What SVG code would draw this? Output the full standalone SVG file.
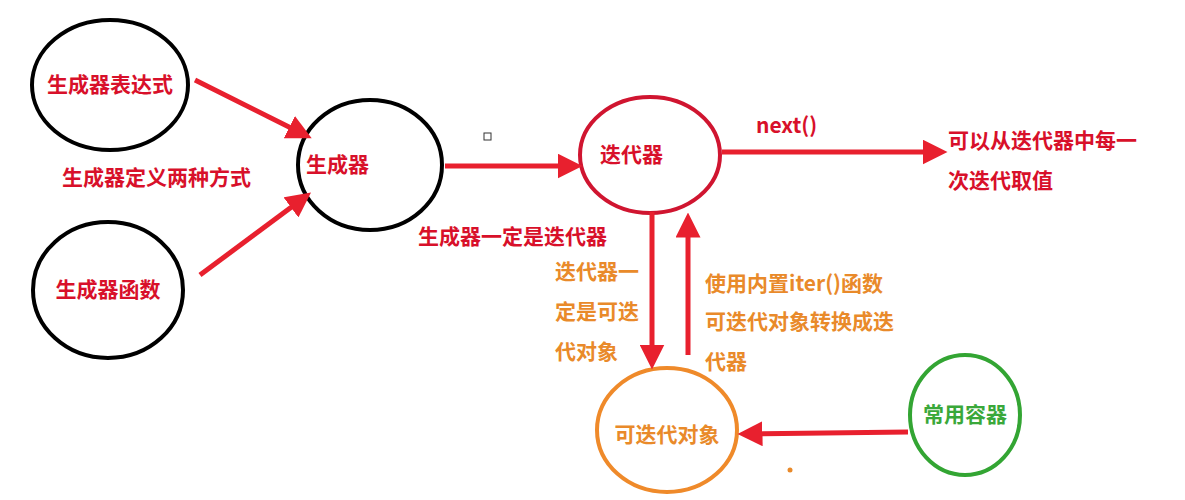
<svg xmlns="http://www.w3.org/2000/svg" width="1185" height="500" viewBox="0 0 1185 500">
<defs>
<marker id="ah" markerWidth="5" markerHeight="5" refX="3.5" refY="2.5" orient="auto" markerUnits="strokeWidth"><path d="M0,0 L5,2.5 L0,5 Z" fill="#e8202e"/></marker>
<style>
.e{fill:none;stroke-width:4}
.t{font-family:"Noto Sans CJK SC","Liberation Sans",sans-serif;font-weight:bold;font-size:21px}
.r{fill:#d8102a}.o{fill:#e98a2a}.g{fill:#3aa83a}
.c{stroke:#e8202e;stroke-width:5;fill:none;marker-end:url(#ah)}
</style>
</defs>
<rect width="1185" height="500" fill="#fff"/>
<g id="n1"><ellipse class="e" cx="110" cy="85" rx="78" ry="65" stroke="#000"/><text class="t r" x="110" y="92" text-anchor="middle">生成器表达式</text></g>
<g id="n2"><ellipse class="e" cx="108" cy="290" rx="75" ry="68" stroke="#000"/><text class="t r" x="108" y="297" text-anchor="middle">生成器函数</text></g>
<g id="n3"><ellipse class="e" cx="370" cy="165" rx="72" ry="65" stroke="#000"/><text class="t r" x="306" y="172">生成器</text></g>
<g id="n4"><ellipse class="e" cx="650" cy="155" rx="70" ry="58" stroke="#d01530"/><text class="t r" x="600" y="162">迭代器</text></g>
<g id="n5"><ellipse class="e" cx="667" cy="430" rx="70" ry="62" stroke="#ef8a2a"/><text class="t o" x="667" y="442" text-anchor="middle">可迭代对象</text></g>
<g id="n6"><ellipse class="e" cx="965" cy="415" rx="55" ry="60" stroke="#33a533"/><text class="t g" x="965" y="422" text-anchor="middle">常用容器</text></g>
<g id="labels">
<text class="t r" x="62" y="185">生成器定义两种方式</text>
<text class="t r" x="756" y="133">next()</text>
<text class="t r" x="948" y="148">可以从迭代器中每一</text>
<text class="t r" x="948" y="188">次迭代取值</text>
<text class="t r" x="418" y="244">生成器一定是迭代器</text>
<text class="t o" x="555" y="279">迭代器一</text>
<text class="t o" x="555" y="319">定是可迭</text>
<text class="t o" x="555" y="359">代对象</text>
<text class="t o" x="705" y="291">使用内置iter()函数</text>
<text class="t o" x="705" y="329">可迭代对象转换成迭</text>
<text class="t o" x="705" y="369">代器</text>
</g>
<g id="connectors">
<line class="c" x1="195" y1="80" x2="305" y2="135"/>
<line class="c" x1="200" y1="275" x2="305" y2="197"/>
<line class="c" x1="445" y1="166" x2="575" y2="166"/>
<line class="c" x1="722" y1="152" x2="940" y2="152"/>
<line class="c" x1="652" y1="212" x2="652" y2="362"/>
<line class="c" x1="688" y1="355" x2="688" y2="220"/>
<line class="c" x1="908" y1="432" x2="745" y2="434"/>
</g>
<rect x="484" y="133" width="7" height="7" fill="none" stroke="#333" stroke-width="1"/>
<circle cx="790" cy="470" r="2.5" fill="#e98a2a"/>
</svg>
